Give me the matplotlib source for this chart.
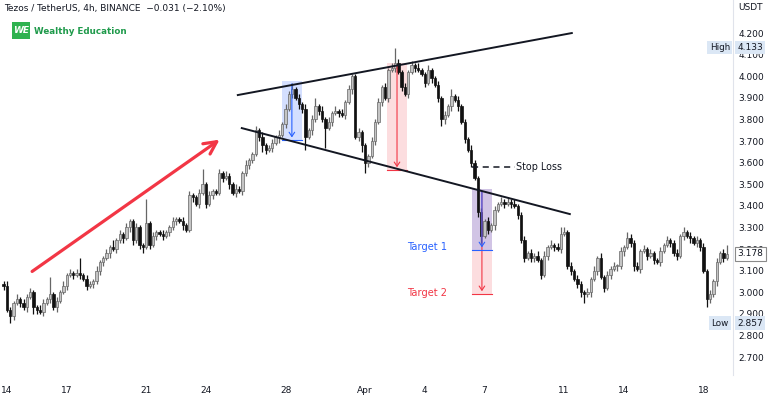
import matplotlib
matplotlib.use('Agg')
import matplotlib.pyplot as plt
import matplotlib.patches as mpatches
import numpy as np

# ---------------- data (Tezos / TetherUS 4h) ----------------
closes = [
    3.03, 2.92, 2.89, 2.95, 2.97, 2.95, 2.93, 2.98, 3.00, 2.93,
    2.92, 2.91, 2.95, 2.97, 2.99, 2.93, 2.96, 3.00, 3.03, 3.08,
    3.09, 3.08, 3.09, 3.08, 3.06, 3.03, 3.04, 3.05, 3.10, 3.14,
    3.16, 3.18, 3.21, 3.20, 3.24, 3.27, 3.25, 3.30, 3.33, 3.24,
    3.30, 3.22, 3.21, 3.32, 3.22, 3.26, 3.28, 3.27, 3.26, 3.28,
    3.30, 3.33, 3.34, 3.33, 3.31, 3.29, 3.45, 3.44, 3.41, 3.46,
    3.50, 3.41, 3.45, 3.47, 3.46, 3.55, 3.53, 3.54, 3.50, 3.46,
    3.48, 3.47, 3.55, 3.59, 3.61, 3.64, 3.75, 3.72, 3.68, 3.66,
    3.67, 3.69, 3.72, 3.73, 3.78, 3.85, 3.92, 3.94, 3.90, 3.87,
    3.85, 3.72, 3.75, 3.80, 3.86, 3.84, 3.80, 3.76, 3.79, 3.83,
    3.84, 3.83, 3.82, 3.88, 3.94, 4.00, 3.72, 3.74, 3.68, 3.60,
    3.63, 3.70, 3.79, 3.88, 3.95, 3.90, 4.03, 4.04, 4.06, 4.02,
    3.95, 3.92, 4.02, 4.05, 4.04, 4.03, 4.01, 3.97, 4.03, 3.99,
    3.96, 3.90, 3.80, 3.82, 3.86, 3.91, 3.89, 3.86, 3.79, 3.71,
    3.66, 3.60, 3.53, 3.37, 3.26, 3.33, 3.29, 3.31, 3.38, 3.41,
    3.42, 3.41, 3.42, 3.41, 3.40, 3.36, 3.24, 3.16, 3.18, 3.16,
    3.17, 3.15, 3.08, 3.17, 3.21, 3.22, 3.21, 3.20, 3.27, 3.28,
    3.12, 3.10, 3.06, 3.04, 3.00, 2.99, 3.00, 3.06, 3.10, 3.16,
    3.07, 3.02, 3.08, 3.11, 3.12, 3.12, 3.19, 3.21, 3.25, 3.23,
    3.12, 3.11, 3.19, 3.20, 3.17, 3.18, 3.15, 3.14, 3.19, 3.22,
    3.24, 3.23, 3.18, 3.17, 3.26, 3.28, 3.26, 3.25, 3.23, 3.24,
    3.21, 3.10, 2.97, 2.99, 3.05, 3.14, 3.18, 3.16, 3.178,
]
first_open = 3.04

# wick lengths above / below the body, in cents
upper_wick = [
    1, 2, 1, 1, 2, 1, 2, 1, 2, 1,   1, 2, 2, 1, 8, 1, 2, 1, 2, 1,
    2, 1, 2, 7, 1, 2, 1, 1, 2, 1,   1, 2, 1, 3, 1, 2, 1, 2, 1, 1,
    2, 1, 1, 11, 1, 2, 1, 1, 2, 1,  1, 2, 1, 1, 2, 1, 2, 1, 1, 2,
    7, 1, 2, 1, 1, 2, 1, 2, 1, 1,   2, 1, 1, 2, 1, 1, 2, 1, 2, 1,
    1, 2, 1, 2, 1, 2, 1, 3, 1, 2,   1, 2, 1, 2, 4, 1, 2, 1, 2, 1,
    2, 1, 2, 1, 2, 1, 1, 2, 1, 1,   1, 2, 1, 2, 1, 2, 1, 2, 7, 2,
    1, 2, 1, 2, 1, 2, 1, 1, 2, 1,   1, 2, 1, 2, 1, 3, 1, 2, 1, 1,
    1, 2, 1, 1, 2, 1, 2, 1, 2, 1,   2, 1, 2, 1, 2, 1, 1, 2, 1, 2,
    1, 2, 1, 2, 1, 2, 1, 2, 3, 2,   1, 2, 1, 2, 1, 1, 2, 1, 2, 1,
    2, 1, 2, 1, 2, 1, 2, 1, 3, 2,   1, 2, 1, 2, 1, 2, 1, 1, 2, 1,
    2, 1, 1, 2, 1, 2, 1, 2, 1, 2,   1, 2, 1, 2, 1, 2, 1, 2, 4,
]
lower_wick = [
    2, 1, 3, 2, 1, 2, 1, 2, 1, 3,   2, 1, 2, 1, 2, 1, 2, 1, 1, 2,
    1, 2, 1, 2, 1, 2, 1, 2, 1, 2,   2, 1, 2, 1, 2, 1, 2, 1, 2, 2,
    1, 2, 3, 1, 2, 1, 2, 1, 2, 1,   2, 1, 2, 1, 2, 1, 1, 2, 1, 2,
    1, 2, 1, 2, 1, 1, 2, 1, 2, 1,   2, 1, 2, 1, 2, 1, 1, 2, 3, 2,
    1, 2, 1, 3, 1, 2, 1, 2, 1, 2,   2, 6, 1, 2, 1, 2, 1, 9, 1, 2,
    1, 2, 1, 2, 1, 2, 1, 2, 3, 5,   2, 1, 2, 1, 2, 1, 2, 1, 2, 1,
    2, 1, 2, 1, 2, 1, 1, 2, 1, 2,   1, 2, 3, 2, 1, 2, 1, 2, 1, 2,
    1, 2, 1, 2, 3, 1, 2, 1, 2, 1,   1, 2, 1, 2, 1, 2, 1, 2, 1, 2,
    2, 1, 2, 1, 2, 1, 2, 1, 2, 1,   1, 2, 1, 2, 2, 4, 1, 2, 1, 2,
    1, 2, 1, 2, 1, 2, 1, 2, 1, 2,   2, 1, 2, 1, 2, 1, 2, 1, 2, 1,
    1, 2, 1, 2, 1, 2, 1, 2, 1, 2,   2, 1, 4, 2, 1, 2, 1, 2, 1,
]

date_labels = ['14', '17', '21', '24', '28', 'Apr', '4', '7', '11', '14', '18']
date_pos = [1, 19, 43, 61, 85, 109, 127, 145, 169, 187, 211]   # candle index
price_ticks = [2.7, 2.8, 2.9, 3.0, 3.1, 3.2, 3.3, 3.4, 3.5, 3.6, 3.7, 3.8, 3.9, 4.0, 4.1, 4.2]

high_val, low_val, last_val = 4.133, 2.857, 3.178

# ---------------- build OHLC ----------------
c = np.array(closes)
o = np.concatenate([[first_open], c[:-1]])
top = np.maximum(o, c)
bot = np.minimum(o, c)
hi = top + np.array(upper_wick) * 0.01
lo = bot - np.array(lower_wick) * 0.01
idx = np.arange(len(c))
up = c >= o

# ---------------- figure ----------------
fig = plt.figure(figsize=(7.68, 3.95), dpi=100)
fig.patch.set_facecolor('white')
ax = fig.add_axes([0, 20 / 395, 733 / 768, 375 / 395])
ax.set_xlim(-1.1, 219.9)
ax.set_ylim(2.617, 4.353)
for s in ax.spines.values():
    s.set_visible(False)
ax.axvline(219.9, color='#e0e3eb', lw=0.8, clip_on=False)

UP_FACE, UP_EDGE, DN = '#c4c4c4', '#666666', '#111111'

ax.vlines(idx[up], lo[up], hi[up], color=UP_EDGE, lw=0.9, zorder=2)
ax.vlines(idx[~up], lo[~up], hi[~up], color=DN, lw=0.9, zorder=2)
h = np.maximum(top - bot, 0.004)
ax.bar(idx[up], h[up], bottom=bot[up], width=0.7, color=UP_FACE,
       edgecolor=UP_EDGE, linewidth=0.5, zorder=3)
ax.bar(idx[~up], h[~up], bottom=bot[~up], width=0.7, color=DN,
       edgecolor=DN, linewidth=0.5, zorder=3)

# ---------------- ticks ----------------
ax.set_xticks(date_pos)
ax.set_xticklabels(date_labels, fontsize=6.5, color='#131722')
ax.yaxis.tick_right()
ax.set_yticks(price_ticks)
ax.set_yticklabels([f'{v:.3f}' for v in price_ticks], fontsize=6.5, color='#131722')
ax.tick_params(axis='x', length=0, pad=8)
ax.tick_params(axis='y', length=0, pad=4)

# ---------------- drawings ----------------
BLUE, RED = '#2962ff', '#f23645'

# uptrend arrow
ax.annotate('', xy=(65.8, 3.714), xytext=(7.9, 3.089),
            arrowprops=dict(arrowstyle='->,head_length=0.9,head_width=0.45',
                            color=RED, lw=2.3), zorder=5)

# broadening formation lines
ax.plot([70.6, 171.3], [3.913, 4.200], color='#131722', lw=1.4, zorder=5)
ax.plot([71.8, 170.7], [3.760, 3.362], color='#131722', lw=1.4, zorder=5)


def measure(x0, x1, ytop, ybot, col, alpha):
    ax.add_patch(mpatches.Rectangle((x0, ybot), x1 - x0, ytop - ybot,
                                    facecolor=col, alpha=alpha, lw=0, zorder=1))
    xm = (x0 + x1) / 2
    ax.annotate('', xy=(xm, ybot), xytext=(xm, ytop),
                arrowprops=dict(arrowstyle='->,head_length=0.3,head_width=0.2',
                                color=col, lw=0.8), zorder=4)
    ax.plot([x0, x1], [ybot, ybot], color=col, lw=0.8, zorder=4)


measure(83.9, 89.9, 3.978, 3.704, BLUE, 0.2)
measure(115.6, 121.6, 4.061, 3.566, RED, 0.17)
measure(141.2, 147.2, 3.480, 2.992, RED, 0.17)
measure(141.2, 147.2, 3.480, 3.195, BLUE, 0.2)

ax.text(133.6, 3.209, 'Target 1', color=BLUE, fontsize=7.1, ha='right', va='center')
ax.text(133.6, 2.996, 'Target 2', color=RED, fontsize=7.1, ha='right', va='center')

ax.plot([141.2, 154.2], [3.58, 3.58], color='#131722', lw=1.1, ls=(0, (4, 3)), zorder=5)
ax.text(154.6, 3.58, 'Stop Loss', color='#131722', fontsize=6.9, ha='left', va='center')

# ---------------- price scale labels ----------------
yt = ax.get_yaxis_transform()
box_hl = dict(boxstyle='square,pad=0.25', facecolor='#dbe7f5', edgecolor='none')
ax.text(0.982, high_val, 'High', transform=yt, fontsize=6.3, ha='center', va='center',
        color='#131722', bbox=box_hl, clip_on=False, zorder=6)
ax.text(1.006, high_val, f'{high_val:.3f}', transform=yt, fontsize=6.5, ha='left',
        va='center', color='#131722', bbox=box_hl, clip_on=False, zorder=6)
ax.text(0.982, low_val, 'Low', transform=yt, fontsize=6.3, ha='center', va='center',
        color='#131722', bbox=box_hl, clip_on=False, zorder=6)
ax.text(1.006, low_val, f'{low_val:.3f}', transform=yt, fontsize=6.5, ha='left',
        va='center', color='#131722', bbox=box_hl, clip_on=False, zorder=6)
ax.text(1.006, last_val, f'{last_val:.3f}', transform=yt, fontsize=6.5, ha='left',
        va='center', color='#131722', clip_on=False, zorder=6,
        bbox=dict(boxstyle='square,pad=0.3', facecolor='white', edgecolor='#8a8a8a', lw=0.8))

# ---------------- header ----------------
fig.text(738 / 768, 1 - 8 / 395, 'USDT', fontsize=6.5, color='#131722', ha='left', va='center')
fig.text(4 / 768, 1 - 9 / 395, 'Tezos / TetherUS, 4h, BINANCE  \u22120.031 (\u22122.10%)',
         fontsize=6.5, color='#131722', ha='left', va='center')
fig.patches.append(mpatches.Rectangle((12 / 768, 1 - 39 / 395), 18 / 768, 17 / 395,
                                      transform=fig.transFigure, facecolor='#2eb24f',
                                      edgecolor='none'))
fig.text(21 / 768, 1 - 30.5 / 395, 'WE', fontsize=6.5, color='white', fontweight='bold',
         fontstyle='italic', ha='center', va='center')
fig.text(34 / 768, 1 - 31 / 395, 'Wealthy Education', fontsize=6.3, color='#1f9a4b',
         fontweight='bold', ha='left', va='center')

fig.savefig('out.png', dpi=100, facecolor='white')
